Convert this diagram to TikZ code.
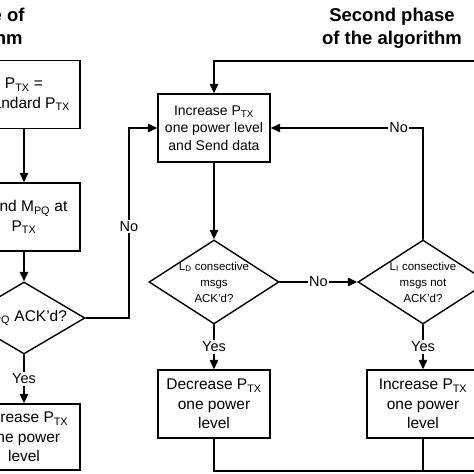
\documentclass[tikz,border=0pt]{standalone}
\usepackage{fontspec}
\setmainfont{Liberation Sans}
\usetikzlibrary{shapes.geometric,arrows.meta}
\newcommand{\ptx}{P\textsubscript{TX}}
\begin{document}
\begin{tikzpicture}[x=1pt,y=-1pt,line cap=round,
	box/.style={draw,line width=1.4pt,align=center,minimum width=112pt,minimum height=68pt,inner sep=1pt,font=\fontsize{15.5}{19.5}\selectfont},
	query/.style={draw,diamond,line width=1.4pt,align=center,inner sep=0pt},
	flow/.style={line width=1.4pt,-{Triangle[length=9.5pt,width=8.5pt]}},
	plain/.style={line width=1.4pt},
	tag/.style={fill=white,inner sep=1.5pt,font=\fontsize{14.5}{16}\selectfont},
	heading/.style={align=center,font=\bfseries\fontsize{18.5}{23}\selectfont}]
		\useasboundingbox (0,0) rectangle (474,474);
		\clip (0,0) rectangle (474,474);
		\node[heading] (head1) at (-36,28.5) {First phase of\\the algorithm};
		\node[heading] (head2) at (392,28.5) {Second phase\\of the algorithm};
		% first phase
		\node[box] (init) at (24,94.5) {\ptx\ =\\Standard \ptx};
		\node[box] (probe) at (24,217) {Send M\textsubscript{PQ} at\\\ptx};
		\node[query,aspect=1.69,minimum width=122pt,minimum height=72pt,font=\fontsize{15.5}{17}\selectfont] (acked) at (24,318) {M\textsubscript{PQ} ACK'd?};
		\node[box,minimum height=66pt] (raise) at (24,437) {Increase \ptx\\one power\\level};
		% second phase
		\node[box,font=\fontsize{14}{17.5}\selectfont] (send) at (214,128) {Increase \ptx\\one power level\\and Send data};
		\node[query,aspect=1.55,minimum width=130pt,minimum height=84pt,inner sep=-4pt,font=\fontsize{11.5}{16}\selectfont] (lowok) at (214,282) {L\textsubscript{D} consective\\msgs\\ACK'd?};
		\node[query,aspect=1.55,minimum width=130pt,minimum height=84pt,inner sep=-4pt,font=\fontsize{11.5}{16}\selectfont] (lowfail) at (423,282) {L\textsubscript{I} consective\\msgs not\\ACK'd?};
		\node[box] (down) at (214,404) {Decrease \ptx\\one power\\level};
		\node[box] (up) at (423,404) {Increase \ptx\\one power\\level};
		\coordinate (nobend) at (129,128);
		\coordinate (loopb) at (490,471);
		\coordinate (loopt) at (490,61);
		\draw[flow] (init) -- (probe);
		\draw[flow] (probe) -- (acked);
		\draw[flow] (acked) -- node[tag] {Yes} (raise);
		\draw[flow] (acked.east) -| node[tag,pos=0.74] {No} (nobend) -- (send.west);
		\draw[flow] (send) -- (lowok);
		\draw[flow] (lowok) -- node[tag] {No} (lowfail);
		\draw[flow] (lowok) -- node[tag] {Yes} (down);
		\draw[flow] (lowfail) -- node[tag] {Yes} (up);
		\draw[flow] (lowfail.north) |- node[tag,pos=0.58] {No} (send.east);
		\draw[plain] (up.south) -- (up.south |- loopb);
		\draw[flow] (down.south) |- (loopb) -- (loopt) -| (send.north);
	\end{tikzpicture}
\end{document}
